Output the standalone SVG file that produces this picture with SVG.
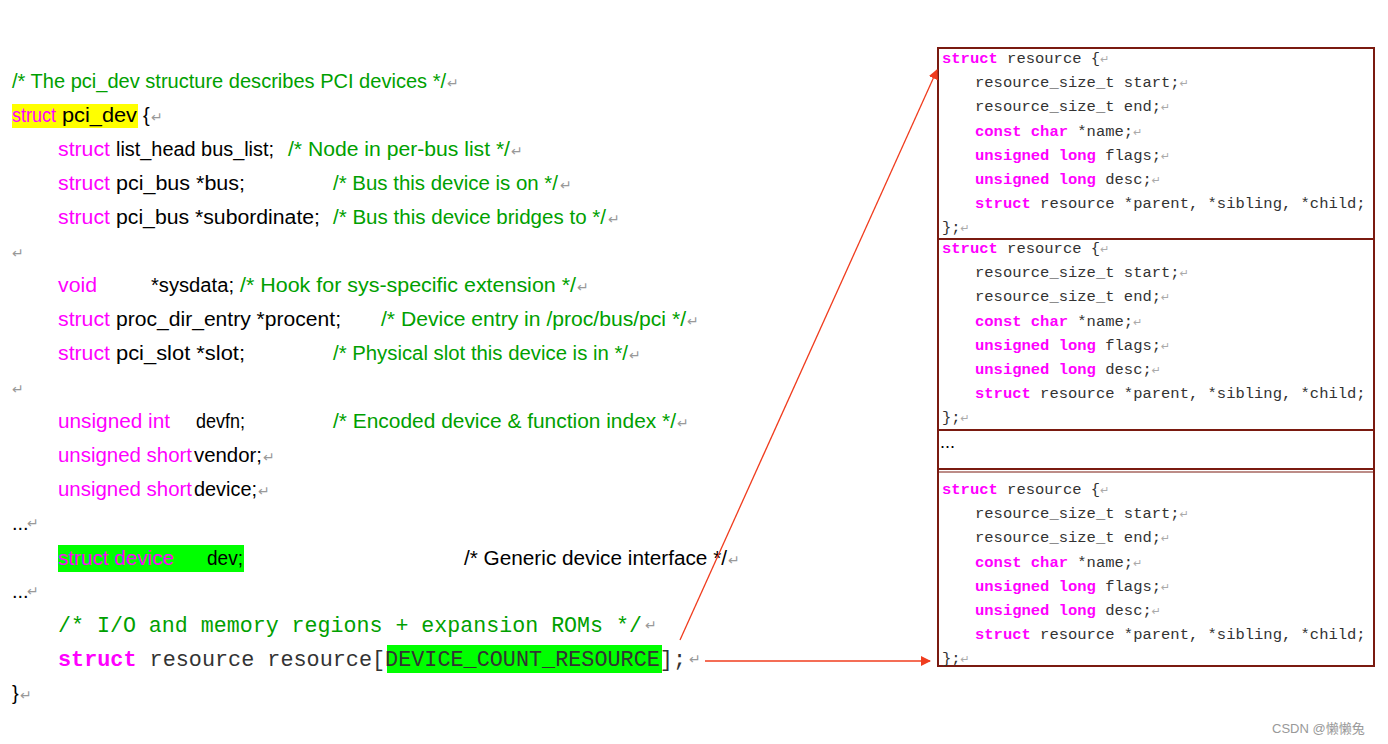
<svg xmlns="http://www.w3.org/2000/svg" width="1388" height="744" viewBox="0 0 1388 744">
<defs>
<style>
.s{font-family:"Liberation Sans",Arial,sans-serif;font-size:20px;fill:#000}
.k{fill:#ff00ff}
.c{fill:#00a000}
.r{fill:#999;font-family:"DejaVu Sans",sans-serif;font-size:14px}
.m{font-family:"Liberation Mono","Courier New",monospace;font-size:21.5px;fill:#333}
.mk{fill:#ff00ff;font-weight:bold}
.b{font-family:"Liberation Mono","Courier New",monospace;font-size:15.5px;fill:#333}
.rr{fill:#aaa;font-family:"DejaVu Sans",sans-serif;font-size:11px}
</style>
<marker id="ah" markerWidth="10" markerHeight="10" refX="9" refY="5" orient="auto" markerUnits="userSpaceOnUse"><path d="M0,0 L10,5 L0,10 z" fill="#f03c1e"/></marker>
<g id="res">
<text class="b" x="0" y="0"><tspan class="mk">struct</tspan> resource {<tspan class="rr">↵</tspan></text>
<text class="b" x="33" y="24.2">resource_size_t start;<tspan class="rr">↵</tspan></text>
<text class="b" x="33" y="48.4">resource_size_t end;<tspan class="rr">↵</tspan></text>
<text class="b" x="33" y="72.6"><tspan class="mk">const char</tspan> *name;<tspan class="rr">↵</tspan></text>
<text class="b" x="33" y="96.8"><tspan class="mk">unsigned long</tspan> flags;<tspan class="rr">↵</tspan></text>
<text class="b" x="33" y="121"><tspan class="mk">unsigned long</tspan> desc;<tspan class="rr">↵</tspan></text>
<text class="b" x="33" y="145.2"><tspan class="mk">struct</tspan> resource *parent, *sibling, *child;</text>
<text class="b" x="0" y="169.4">};<tspan class="rr">↵</tspan></text>
</g>
</defs>
<rect width="1388" height="744" fill="#fff"/>
<g id="pci_dev">
<rect x="12" y="104" width="126" height="24" fill="#ffff00"/>
<rect x="58" y="545" width="186" height="27" fill="#00ff00"/>
<rect x="387" y="645" width="275" height="28" fill="#00ff00"/>
<text class="s c" x="12" y="88" textLength="434" lengthAdjust="spacingAndGlyphs">/* The pci_dev structure describes PCI devices */</text><text class="r" x="447" y="88">↵</text>
<text class="s k" x="12" y="122" textLength="44" lengthAdjust="spacingAndGlyphs">struct</text><text class="s" x="62" y="122" textLength="75" lengthAdjust="spacingAndGlyphs">pci_dev</text><text class="s" x="143" y="122">{</text><text class="r" x="151" y="122">↵</text>
<text class="s k" x="58" y="156" textLength="52" lengthAdjust="spacingAndGlyphs">struct</text><text class="s" x="116" y="156" textLength="158" lengthAdjust="spacingAndGlyphs">list_head bus_list;</text><text class="s c" x="288" y="156" textLength="222" lengthAdjust="spacingAndGlyphs">/* Node in per-bus list */</text><text class="r" x="511" y="156">↵</text>
<text class="s k" x="58" y="190" textLength="52" lengthAdjust="spacingAndGlyphs">struct</text><text class="s" x="116" y="190" textLength="129" lengthAdjust="spacingAndGlyphs">pci_bus  *bus;</text><text class="s c" x="333" y="190" textLength="225" lengthAdjust="spacingAndGlyphs">/* Bus this device is on */</text><text class="r" x="560" y="190">↵</text>
<text class="s k" x="58" y="224" textLength="52" lengthAdjust="spacingAndGlyphs">struct</text><text class="s" x="116" y="224" textLength="204" lengthAdjust="spacingAndGlyphs">pci_bus  *subordinate;</text><text class="s c" x="333" y="224" textLength="273" lengthAdjust="spacingAndGlyphs">/* Bus this device bridges to */</text><text class="r" x="608" y="224">↵</text>
<text class="r" x="12" y="258">↵</text>
<text class="s k" x="58" y="292" textLength="39" lengthAdjust="spacingAndGlyphs">void</text><text class="s" x="151" y="292" textLength="83" lengthAdjust="spacingAndGlyphs">*sysdata;</text><text class="s c" x="240" y="292" textLength="336" lengthAdjust="spacingAndGlyphs">/* Hook for sys-specific extension */</text><text class="r" x="577" y="292">↵</text>
<text class="s k" x="58" y="326" textLength="52" lengthAdjust="spacingAndGlyphs">struct</text><text class="s" x="116" y="326" textLength="225" lengthAdjust="spacingAndGlyphs">proc_dir_entry *procent;</text><text class="s c" x="381" y="326" textLength="305" lengthAdjust="spacingAndGlyphs">/* Device entry in /proc/bus/pci */</text><text class="r" x="687" y="326">↵</text>
<text class="s k" x="58" y="360" textLength="52" lengthAdjust="spacingAndGlyphs">struct</text><text class="s" x="116" y="360" textLength="129" lengthAdjust="spacingAndGlyphs">pci_slot  *slot;</text><text class="s c" x="333" y="360" textLength="295" lengthAdjust="spacingAndGlyphs">/* Physical slot this device is in */</text><text class="r" x="629" y="360">↵</text>
<text class="r" x="12" y="394">↵</text>
<text class="s k" x="58" y="428" textLength="112" lengthAdjust="spacingAndGlyphs">unsigned int</text><text class="s" x="196" y="428" textLength="49" lengthAdjust="spacingAndGlyphs">devfn;</text><text class="s c" x="333" y="428" textLength="343" lengthAdjust="spacingAndGlyphs">/* Encoded device &amp; function index */</text><text class="r" x="677" y="428">↵</text>
<text class="s k" x="58" y="462" textLength="134" lengthAdjust="spacingAndGlyphs">unsigned short</text><text class="s" x="194" y="462" textLength="68" lengthAdjust="spacingAndGlyphs">vendor;</text><text class="r" x="263" y="462">↵</text>
<text class="s k" x="58" y="496" textLength="134" lengthAdjust="spacingAndGlyphs">unsigned short</text><text class="s" x="194" y="496" textLength="63" lengthAdjust="spacingAndGlyphs">device;</text><text class="r" x="258" y="496">↵</text>
<text class="s" x="12" y="530">...</text><text class="r" x="27" y="528">↵</text>
<text class="s k" x="58" y="565" textLength="116" lengthAdjust="spacingAndGlyphs">struct device</text><text class="s" x="207" y="565" textLength="36" lengthAdjust="spacingAndGlyphs">dev;</text><text class="s" x="464" y="565" textLength="263" lengthAdjust="spacingAndGlyphs">/* Generic device interface */</text><text class="r" x="728" y="565">↵</text>
<text class="s" x="12" y="598">...</text><text class="r" x="27" y="596">↵</text>
<text class="m" x="58" y="632" style="fill:#00a000" textLength="584" lengthAdjust="spacingAndGlyphs">/* I/O and memory regions + expansion ROMs */</text><text class="r" x="645" y="630">↵</text>
<text class="m" x="58" y="666" textLength="628" lengthAdjust="spacingAndGlyphs"><tspan class="mk">struct</tspan> resource resource[DEVICE_COUNT_RESOURCE];</text><text class="r" x="689" y="664">↵</text>
<text class="s" x="12" y="700">}</text><text class="r" x="20" y="700">↵</text>
</g>
<g id="resources">
<rect x="938" y="48" width="436" height="618" fill="none" stroke="#7a1a10" stroke-width="2"/>
<line x1="938" y1="239" x2="1374" y2="239" stroke="#7a1a10" stroke-width="2"/>
<line x1="938" y1="430" x2="1374" y2="430" stroke="#7a1a10" stroke-width="2"/>
<line x1="938" y1="469" x2="1374" y2="469" stroke="#7a1a10" stroke-width="2"/>
<line x1="938" y1="472" x2="1374" y2="472" stroke="#7a1a10" stroke-width="1"/>
<use href="#res" x="942" y="63"/>
<use href="#res" x="942" y="253"/>
<text class="s" x="940" y="448" style="font-size:18px">...</text>
<use href="#res" x="942" y="494"/>
</g>
<g id="connectors" stroke="#f03c1e" stroke-width="1.3" fill="none">
<line x1="680" y1="640" x2="937" y2="70" marker-end="url(#ah)"/>
<line x1="705" y1="661" x2="930" y2="661" marker-end="url(#ah)"/>
</g>
<text x="1272" y="733" style="font-family:'Liberation Sans','Noto Sans CJK SC',sans-serif;font-size:13px;fill:#999">CSDN @懒懒兔</text>
</svg>
